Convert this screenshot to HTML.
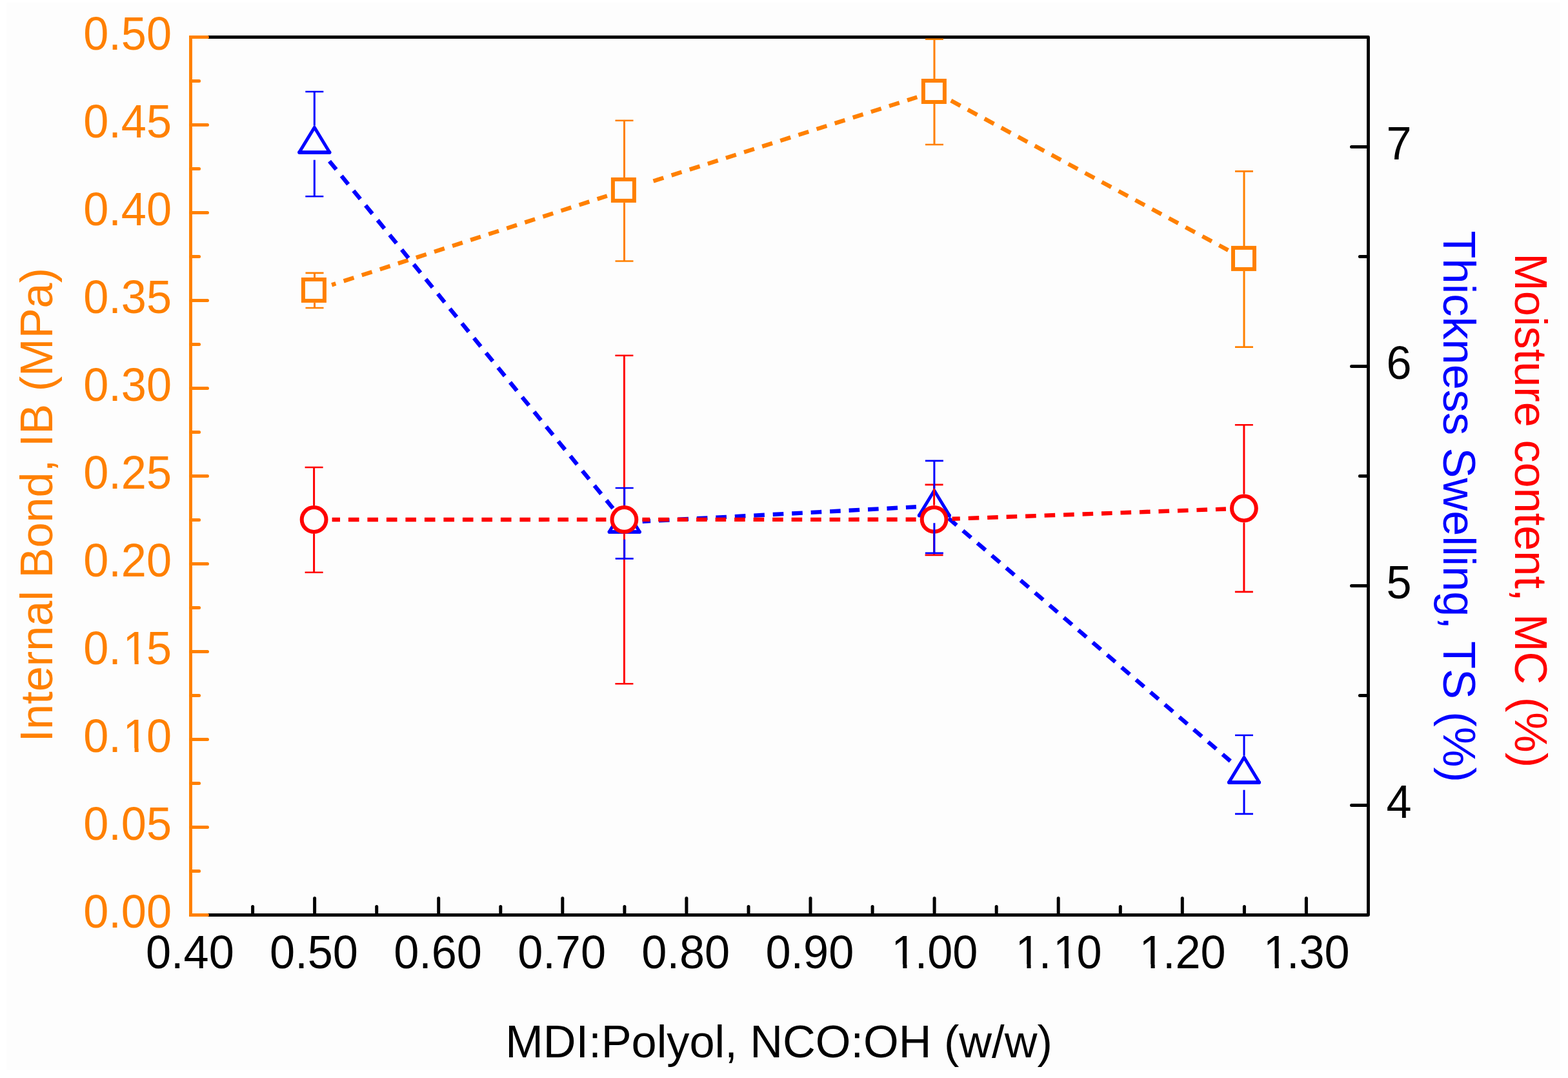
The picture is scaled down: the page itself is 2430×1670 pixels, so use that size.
<!DOCTYPE html>
<html><head><meta charset="utf-8"><title>MDI:Polyol chart</title>
<style>html,body{margin:0;padding:0;background:#fff;width:2430px;height:1670px;overflow:hidden}svg{display:block}</style>
</head><body>
<svg width="2430" height="1670" viewBox="0 0 2430 1670"><rect x="0" y="0" width="2430" height="1670" fill="#ffffff"/>
<rect x="10" y="4" width="2408" height="1654" fill="#fdfdfd"/>
<path d="M295.5 57.5 H2120.5 V1417.5 H295.5" fill="none" stroke="#000000" stroke-width="4.9" stroke-linejoin="round"/>
<line x1="391.6" y1="1417.5" x2="391.6" y2="1404.4" stroke="#000000" stroke-width="5.0" stroke-linecap="round"/>
<line x1="487.6" y1="1417.5" x2="487.6" y2="1391.5" stroke="#000000" stroke-width="5.0" stroke-linecap="round"/>
<line x1="583.7" y1="1417.5" x2="583.7" y2="1404.4" stroke="#000000" stroke-width="5.0" stroke-linecap="round"/>
<line x1="679.7" y1="1417.5" x2="679.7" y2="1391.5" stroke="#000000" stroke-width="5.0" stroke-linecap="round"/>
<line x1="775.8" y1="1417.5" x2="775.8" y2="1404.4" stroke="#000000" stroke-width="5.0" stroke-linecap="round"/>
<line x1="871.8" y1="1417.5" x2="871.8" y2="1391.5" stroke="#000000" stroke-width="5.0" stroke-linecap="round"/>
<line x1="967.9" y1="1417.5" x2="967.9" y2="1404.4" stroke="#000000" stroke-width="5.0" stroke-linecap="round"/>
<line x1="1063.9" y1="1417.5" x2="1063.9" y2="1391.5" stroke="#000000" stroke-width="5.0" stroke-linecap="round"/>
<line x1="1160.0" y1="1417.5" x2="1160.0" y2="1404.4" stroke="#000000" stroke-width="5.0" stroke-linecap="round"/>
<line x1="1256.0" y1="1417.5" x2="1256.0" y2="1391.5" stroke="#000000" stroke-width="5.0" stroke-linecap="round"/>
<line x1="1352.1" y1="1417.5" x2="1352.1" y2="1404.4" stroke="#000000" stroke-width="5.0" stroke-linecap="round"/>
<line x1="1448.1" y1="1417.5" x2="1448.1" y2="1391.5" stroke="#000000" stroke-width="5.0" stroke-linecap="round"/>
<line x1="1544.2" y1="1417.5" x2="1544.2" y2="1404.4" stroke="#000000" stroke-width="5.0" stroke-linecap="round"/>
<line x1="1640.2" y1="1417.5" x2="1640.2" y2="1391.5" stroke="#000000" stroke-width="5.0" stroke-linecap="round"/>
<line x1="1736.3" y1="1417.5" x2="1736.3" y2="1404.4" stroke="#000000" stroke-width="5.0" stroke-linecap="round"/>
<line x1="1832.3" y1="1417.5" x2="1832.3" y2="1391.5" stroke="#000000" stroke-width="5.0" stroke-linecap="round"/>
<line x1="1928.4" y1="1417.5" x2="1928.4" y2="1404.4" stroke="#000000" stroke-width="5.0" stroke-linecap="round"/>
<line x1="2024.4" y1="1417.5" x2="2024.4" y2="1391.5" stroke="#000000" stroke-width="5.0" stroke-linecap="round"/>
<line x1="2120.5" y1="1247.5" x2="2094.5" y2="1247.5" stroke="#000000" stroke-width="5.0" stroke-linecap="round"/>
<line x1="2120.5" y1="1077.5" x2="2107.4" y2="1077.5" stroke="#000000" stroke-width="5.0" stroke-linecap="round"/>
<line x1="2120.5" y1="907.5" x2="2094.5" y2="907.5" stroke="#000000" stroke-width="5.0" stroke-linecap="round"/>
<line x1="2120.5" y1="737.5" x2="2107.4" y2="737.5" stroke="#000000" stroke-width="5.0" stroke-linecap="round"/>
<line x1="2120.5" y1="567.5" x2="2094.5" y2="567.5" stroke="#000000" stroke-width="5.0" stroke-linecap="round"/>
<line x1="2120.5" y1="397.5" x2="2107.4" y2="397.5" stroke="#000000" stroke-width="5.0" stroke-linecap="round"/>
<line x1="2120.5" y1="227.5" x2="2094.5" y2="227.5" stroke="#000000" stroke-width="5.0" stroke-linecap="round"/>
<line x1="295.5" y1="57.5" x2="295.5" y2="1417.5" stroke="#ff8000" stroke-width="4.9" stroke-linecap="square"/>
<line x1="295.5" y1="1417.5" x2="321.5" y2="1417.5" stroke="#ff8000" stroke-width="5.0" stroke-linecap="round"/>
<line x1="295.5" y1="1349.5" x2="308.6" y2="1349.5" stroke="#ff8000" stroke-width="5.0" stroke-linecap="round"/>
<line x1="295.5" y1="1281.5" x2="321.5" y2="1281.5" stroke="#ff8000" stroke-width="5.0" stroke-linecap="round"/>
<line x1="295.5" y1="1213.5" x2="308.6" y2="1213.5" stroke="#ff8000" stroke-width="5.0" stroke-linecap="round"/>
<line x1="295.5" y1="1145.5" x2="321.5" y2="1145.5" stroke="#ff8000" stroke-width="5.0" stroke-linecap="round"/>
<line x1="295.5" y1="1077.5" x2="308.6" y2="1077.5" stroke="#ff8000" stroke-width="5.0" stroke-linecap="round"/>
<line x1="295.5" y1="1009.5" x2="321.5" y2="1009.5" stroke="#ff8000" stroke-width="5.0" stroke-linecap="round"/>
<line x1="295.5" y1="941.5" x2="308.6" y2="941.5" stroke="#ff8000" stroke-width="5.0" stroke-linecap="round"/>
<line x1="295.5" y1="873.5" x2="321.5" y2="873.5" stroke="#ff8000" stroke-width="5.0" stroke-linecap="round"/>
<line x1="295.5" y1="805.5" x2="308.6" y2="805.5" stroke="#ff8000" stroke-width="5.0" stroke-linecap="round"/>
<line x1="295.5" y1="737.5" x2="321.5" y2="737.5" stroke="#ff8000" stroke-width="5.0" stroke-linecap="round"/>
<line x1="295.5" y1="669.5" x2="308.6" y2="669.5" stroke="#ff8000" stroke-width="5.0" stroke-linecap="round"/>
<line x1="295.5" y1="601.5" x2="321.5" y2="601.5" stroke="#ff8000" stroke-width="5.0" stroke-linecap="round"/>
<line x1="295.5" y1="533.5" x2="308.6" y2="533.5" stroke="#ff8000" stroke-width="5.0" stroke-linecap="round"/>
<line x1="295.5" y1="465.5" x2="321.5" y2="465.5" stroke="#ff8000" stroke-width="5.0" stroke-linecap="round"/>
<line x1="295.5" y1="397.5" x2="308.6" y2="397.5" stroke="#ff8000" stroke-width="5.0" stroke-linecap="round"/>
<line x1="295.5" y1="329.5" x2="321.5" y2="329.5" stroke="#ff8000" stroke-width="5.0" stroke-linecap="round"/>
<line x1="295.5" y1="261.5" x2="308.6" y2="261.5" stroke="#ff8000" stroke-width="5.0" stroke-linecap="round"/>
<line x1="295.5" y1="193.5" x2="321.5" y2="193.5" stroke="#ff8000" stroke-width="5.0" stroke-linecap="round"/>
<line x1="295.5" y1="125.5" x2="308.6" y2="125.5" stroke="#ff8000" stroke-width="5.0" stroke-linecap="round"/>
<line x1="295.5" y1="57.5" x2="321.5" y2="57.5" stroke="#ff8000" stroke-width="5.0" stroke-linecap="round"/>
<text transform="translate(129.18 1437.10) scale(1 1.034)" fill="#ff8000" text-anchor="start" style="font-family:'Liberation Sans',Arial,sans-serif;font-size:70.3px">0.00</text>
<text transform="translate(129.18 1301.10) scale(1 1.034)" fill="#ff8000" text-anchor="start" style="font-family:'Liberation Sans',Arial,sans-serif;font-size:70.3px">0.05</text>
<text transform="translate(129.18 1165.10) scale(1 1.034)" fill="#ff8000" text-anchor="start" style="font-family:'Liberation Sans',Arial,sans-serif;font-size:70.3px">0.<tspan dx="2.8">1</tspan><tspan dx="-2.8">0</tspan></text>
<rect x="194.72" y="1158.87" width="13.86" height="7.43" fill="#fdfdfd"/>
<rect x="214.70" y="1158.87" width="12.84" height="7.43" fill="#fdfdfd"/>
<text transform="translate(129.18 1029.10) scale(1 1.034)" fill="#ff8000" text-anchor="start" style="font-family:'Liberation Sans',Arial,sans-serif;font-size:70.3px">0.<tspan dx="2.8">1</tspan><tspan dx="-2.8">5</tspan></text>
<rect x="194.72" y="1022.87" width="13.86" height="7.43" fill="#fdfdfd"/>
<rect x="214.70" y="1022.87" width="12.84" height="7.43" fill="#fdfdfd"/>
<text transform="translate(129.18 893.10) scale(1 1.034)" fill="#ff8000" text-anchor="start" style="font-family:'Liberation Sans',Arial,sans-serif;font-size:70.3px">0.20</text>
<text transform="translate(129.18 757.10) scale(1 1.034)" fill="#ff8000" text-anchor="start" style="font-family:'Liberation Sans',Arial,sans-serif;font-size:70.3px">0.25</text>
<text transform="translate(129.18 621.10) scale(1 1.034)" fill="#ff8000" text-anchor="start" style="font-family:'Liberation Sans',Arial,sans-serif;font-size:70.3px">0.30</text>
<text transform="translate(129.18 485.10) scale(1 1.034)" fill="#ff8000" text-anchor="start" style="font-family:'Liberation Sans',Arial,sans-serif;font-size:70.3px">0.35</text>
<text transform="translate(129.18 349.10) scale(1 1.034)" fill="#ff8000" text-anchor="start" style="font-family:'Liberation Sans',Arial,sans-serif;font-size:70.3px">0.40</text>
<text transform="translate(129.18 213.10) scale(1 1.034)" fill="#ff8000" text-anchor="start" style="font-family:'Liberation Sans',Arial,sans-serif;font-size:70.3px">0.45</text>
<text transform="translate(129.18 77.10) scale(1 1.034)" fill="#ff8000" text-anchor="start" style="font-family:'Liberation Sans',Arial,sans-serif;font-size:70.3px">0.50</text>
<text transform="translate(2148.60 1266.80) scale(1 1.034)" fill="#000000" text-anchor="start" style="font-family:'Liberation Sans',Arial,sans-serif;font-size:70.3px">4</text>
<text transform="translate(2148.60 926.80) scale(1 1.034)" fill="#000000" text-anchor="start" style="font-family:'Liberation Sans',Arial,sans-serif;font-size:70.3px">5</text>
<text transform="translate(2148.60 586.80) scale(1 1.034)" fill="#000000" text-anchor="start" style="font-family:'Liberation Sans',Arial,sans-serif;font-size:70.3px">6</text>
<text transform="translate(2148.60 246.80) scale(1 1.034)" fill="#000000" text-anchor="start" style="font-family:'Liberation Sans',Arial,sans-serif;font-size:70.3px">7</text>
<text transform="translate(225.94 1500.00) scale(1 1.034)" fill="#000000" text-anchor="start" style="font-family:'Liberation Sans',Arial,sans-serif;font-size:70.3px">0.40</text>
<text transform="translate(418.04 1500.00) scale(1 1.034)" fill="#000000" text-anchor="start" style="font-family:'Liberation Sans',Arial,sans-serif;font-size:70.3px">0.50</text>
<text transform="translate(610.15 1500.00) scale(1 1.034)" fill="#000000" text-anchor="start" style="font-family:'Liberation Sans',Arial,sans-serif;font-size:70.3px">0.60</text>
<text transform="translate(802.25 1500.00) scale(1 1.034)" fill="#000000" text-anchor="start" style="font-family:'Liberation Sans',Arial,sans-serif;font-size:70.3px">0.70</text>
<text transform="translate(994.36 1500.00) scale(1 1.034)" fill="#000000" text-anchor="start" style="font-family:'Liberation Sans',Arial,sans-serif;font-size:70.3px">0.80</text>
<text transform="translate(1186.46 1500.00) scale(1 1.034)" fill="#000000" text-anchor="start" style="font-family:'Liberation Sans',Arial,sans-serif;font-size:70.3px">0.90</text>
<text transform="translate(1378.57 1500.00) scale(1 1.034)" fill="#000000" text-anchor="start" style="font-family:'Liberation Sans',Arial,sans-serif;font-size:70.3px"><tspan dx="2.8">1</tspan><tspan dx="-2.8">.</tspan>00</text>
<rect x="1385.49" y="1493.77" width="13.86" height="7.43" fill="#fdfdfd"/>
<rect x="1405.46" y="1493.77" width="12.84" height="7.43" fill="#fdfdfd"/>
<text transform="translate(1570.67 1500.00) scale(1 1.034)" fill="#000000" text-anchor="start" style="font-family:'Liberation Sans',Arial,sans-serif;font-size:70.3px"><tspan dx="2.8">1</tspan><tspan dx="-2.8">.</tspan><tspan dx="2.8">1</tspan><tspan dx="-2.8">0</tspan></text>
<rect x="1577.59" y="1493.77" width="13.86" height="7.43" fill="#fdfdfd"/>
<rect x="1597.57" y="1493.77" width="12.84" height="7.43" fill="#fdfdfd"/>
<rect x="1636.22" y="1493.77" width="13.86" height="7.43" fill="#fdfdfd"/>
<rect x="1656.19" y="1493.77" width="12.84" height="7.43" fill="#fdfdfd"/>
<text transform="translate(1762.78 1500.00) scale(1 1.034)" fill="#000000" text-anchor="start" style="font-family:'Liberation Sans',Arial,sans-serif;font-size:70.3px"><tspan dx="2.8">1</tspan><tspan dx="-2.8">.</tspan>20</text>
<rect x="1769.70" y="1493.77" width="13.86" height="7.43" fill="#fdfdfd"/>
<rect x="1789.67" y="1493.77" width="12.84" height="7.43" fill="#fdfdfd"/>
<text transform="translate(1954.89 1500.00) scale(1 1.034)" fill="#000000" text-anchor="start" style="font-family:'Liberation Sans',Arial,sans-serif;font-size:70.3px"><tspan dx="2.8">1</tspan><tspan dx="-2.8">.</tspan>30</text>
<rect x="1961.80" y="1493.77" width="13.86" height="7.43" fill="#fdfdfd"/>
<rect x="1981.78" y="1493.77" width="12.84" height="7.43" fill="#fdfdfd"/>
<text transform="translate(783.30 1637.90)" fill="#000000" text-anchor="start" style="font-family:'Liberation Sans',Arial,sans-serif;font-size:70.3px">MDI:Polyol, NCO:OH (w/w)</text>
<text transform="translate(80.80 1149.50) rotate(-90)" fill="#ff8000" text-anchor="start" style="font-family:'Liberation Sans',Arial,sans-serif;font-size:70.3px">Internal Bond, IB (MPa)</text>
<text transform="translate(2237.00 357.60) rotate(90)" fill="#0000ff" text-anchor="start" style="font-family:'Liberation Sans',Arial,sans-serif;font-size:70.3px">Thickness Swelling, TS (%)</text>
<text transform="translate(2348.00 392.30) rotate(90)" fill="#ff0000" text-anchor="start" style="font-family:'Liberation Sans',Arial,sans-serif;font-size:70.3px">Moisture content, MC (%)</text>
<path d="M925.63 308.38L940.86 303.46 M897.56 317.45L913.36 312.35 M869.49 326.52L885.29 321.42 M841.42 335.59L857.21 330.49 M813.35 344.66L829.14 339.56 M785.28 353.73L801.07 348.63 M757.21 362.80L773.00 357.70 M729.13 371.87L744.93 366.77 M701.06 380.94L716.86 375.84 M672.99 390.01L688.79 384.91 M644.92 399.08L660.72 393.98 M616.85 408.15L632.65 403.05 M588.78 417.22L604.58 412.12 M560.71 426.29L576.51 421.19 M532.64 435.36L548.43 430.26 M514.14 441.34L520.36 439.33" stroke="#ff8000" stroke-width="6.4" stroke-linecap="butt" fill="none"/>
<path d="M1406.07 155.34L1421.32 150.49 M1377.96 164.28L1393.78 159.25 M1349.85 173.22L1365.67 168.19 M1321.73 182.17L1337.55 177.13 M1293.62 191.11L1309.44 186.08 M1265.51 200.05L1281.33 195.02 M1237.40 208.99L1253.22 203.96 M1209.29 217.94L1225.11 212.90 M1181.17 226.88L1196.99 221.85 M1153.06 235.82L1168.88 230.79 M1124.95 244.76L1140.77 239.73 M1096.84 253.71L1112.66 248.67 M1068.73 262.65L1084.55 257.62 M1040.62 271.59L1056.43 266.56 M1012.50 280.53L1028.32 275.50" stroke="#ff8000" stroke-width="6.4" stroke-linecap="butt" fill="none"/>
<path d="M1889.27 379.97L1903.36 387.56 M1863.31 365.96L1877.92 373.84 M1837.34 351.96L1851.95 359.84 M1811.38 337.96L1825.99 345.84 M1785.41 323.96L1800.02 331.84 M1759.45 309.95L1774.06 317.83 M1733.48 295.95L1748.09 303.83 M1707.52 281.95L1722.13 289.83 M1681.55 267.95L1696.16 275.83 M1655.59 253.95L1670.20 261.82 M1629.62 239.94L1644.23 247.82 M1603.66 225.94L1618.27 233.82 M1577.69 211.94L1592.30 219.82 M1551.73 197.94L1566.34 205.82 M1525.76 183.93L1540.37 191.81 M1499.80 169.93L1514.41 177.81 M1473.83 155.93L1488.44 163.81" stroke="#ff8000" stroke-width="6.4" stroke-linecap="butt" fill="none"/>
<rect x="469.9" y="432.9" width="33" height="33" fill="#fdfdfd" stroke="#ff8000" stroke-width="6"/>
<path d="M487.5 422.9V429.9M487.5 468.9V477.0" stroke="#ff8000" stroke-width="3.0" fill="none"/><path d="M473.5 422.9H501.5M473.5 477.0H501.5" stroke="#ff8000" stroke-width="2.6" fill="none"/>
<rect x="949.9" y="277.9" width="33" height="33" fill="#fdfdfd" stroke="#ff8000" stroke-width="6"/>
<path d="M967.5 186.8V274.9M967.5 313.9V404.5" stroke="#ff8000" stroke-width="3.0" fill="none"/><path d="M953.5 186.8H981.5M953.5 404.5H981.5" stroke="#ff8000" stroke-width="2.6" fill="none"/>
<rect x="1430.9" y="125.0" width="33" height="33" fill="#fdfdfd" stroke="#ff8000" stroke-width="6"/>
<path d="M1448.0 60.7V122.0M1448.0 161.0V224.0" stroke="#ff8000" stroke-width="3.0" fill="none"/><path d="M1434.0 60.7H1462.0M1434.0 224.0H1462.0" stroke="#ff8000" stroke-width="2.6" fill="none"/>
<rect x="1911.0" y="383.9" width="33" height="33" fill="#fdfdfd" stroke="#ff8000" stroke-width="6"/>
<path d="M1928.0 265.4V380.9M1928.0 419.9V537.6" stroke="#ff8000" stroke-width="3.0" fill="none"/><path d="M1914.0 265.4H1942.0M1914.0 537.6H1942.0" stroke="#ff8000" stroke-width="2.6" fill="none"/>
<path d="M939.86 775.13L949.98 787.52 M921.19 752.29L931.70 765.14 M902.53 729.44L913.03 742.30 M883.86 706.60L894.36 719.45 M865.19 683.76L875.70 696.61 M846.53 660.91L857.03 673.77 M827.86 638.07L838.36 650.92 M809.19 615.23L819.70 628.08 M790.53 592.38L801.03 605.24 M771.86 569.54L782.37 582.39 M753.20 546.70L763.70 559.55 M734.53 523.85L745.03 536.71 M715.86 501.01L726.37 513.86 M697.20 478.17L707.70 491.02 M678.53 455.32L689.03 468.18 M659.86 432.48L670.37 445.33 M641.20 409.64L651.70 422.49 M622.53 386.79L633.03 399.65 M603.86 363.95L614.37 376.80 M585.20 341.11L595.70 353.96 M566.53 318.26L577.04 331.12 M547.87 295.42L558.37 308.27 M529.20 272.58L539.70 285.43 M510.53 249.73L521.04 262.59" stroke="#0000ff" stroke-width="6.4" stroke-linecap="butt" fill="none"/>
<path d="M1403.96 786.12L1419.94 785.28 M1374.50 787.68L1391.08 786.81 M1345.04 789.24L1361.62 788.36 M1315.58 790.80L1332.16 789.92 M1286.13 792.36L1302.70 791.48 M1256.67 793.92L1273.24 793.04 M1227.21 795.47L1243.79 794.60 M1197.75 797.03L1214.33 796.15 M1168.29 798.59L1184.87 797.71 M1138.83 800.15L1155.41 799.27 M1109.37 801.71L1125.95 800.83 M1079.91 803.26L1096.49 802.39 M1050.46 804.82L1067.03 803.95 M1021.00 806.38L1037.57 805.50 M995.66 807.72L1008.11 807.06" stroke="#0000ff" stroke-width="6.4" stroke-linecap="butt" fill="none"/>
<path d="M1894.66 1168.59L1906.78 1179.03 M1872.31 1149.33L1884.89 1160.17 M1849.96 1130.08L1862.53 1140.92 M1827.60 1110.83L1840.18 1121.66 M1805.25 1091.58L1817.83 1102.41 M1782.90 1072.33L1795.48 1083.16 M1760.55 1053.08L1773.12 1063.91 M1738.19 1033.82L1750.77 1044.66 M1715.84 1014.57L1728.42 1025.41 M1693.49 995.32L1706.07 1006.15 M1671.14 976.07L1683.72 986.90 M1648.79 956.82L1661.36 967.65 M1626.43 937.57L1639.01 948.40 M1604.08 918.32L1616.66 929.15 M1581.73 899.06L1594.31 909.90 M1559.38 879.81L1571.95 890.65 M1537.02 860.56L1549.60 871.39 M1514.67 841.31L1527.25 852.14 M1492.32 822.06L1504.90 832.89 M1469.97 802.81L1482.54 813.64" stroke="#0000ff" stroke-width="6.4" stroke-linecap="butt" fill="none"/>
<path d="M487.3 197.4L510.9 236.1L463.7 236.1Z" fill="none" stroke="#0000ff" stroke-width="4.9" stroke-linejoin="round"/>
<path d="M464.1 236.1H510.5" fill="none" stroke="#0000ff" stroke-width="5.7" stroke-linecap="round"/>
<path d="M967.7 785.3L991.3 824.0L944.1 824.0Z" fill="none" stroke="#0000ff" stroke-width="4.9" stroke-linejoin="round"/>
<path d="M944.5 824.0H990.9" fill="none" stroke="#0000ff" stroke-width="5.7" stroke-linecap="round"/>
<path d="M1447.9 759.9L1471.5 798.6L1424.3 798.6Z" fill="none" stroke="#0000ff" stroke-width="4.9" stroke-linejoin="round"/>
<path d="M1424.7 798.6H1471.1" fill="none" stroke="#0000ff" stroke-width="5.7" stroke-linecap="round"/>
<path d="M1928.0 1173.4L1951.6 1212.1L1904.4 1212.1Z" fill="none" stroke="#0000ff" stroke-width="4.9" stroke-linejoin="round"/>
<path d="M1904.8 1212.1H1951.2" fill="none" stroke="#0000ff" stroke-width="5.7" stroke-linecap="round"/>
<path d="M923.40 804.91L939.40 804.91 M893.90 804.92L910.50 804.91 M864.40 804.92L881.00 804.92 M834.90 804.93L851.50 804.92 M805.40 804.93L822.00 804.93 M775.90 804.94L792.50 804.94 M746.40 804.95L763.00 804.94 M716.90 804.95L733.50 804.95 M687.40 804.96L704.00 804.95 M657.90 804.96L674.50 804.96 M628.40 804.97L645.00 804.97 M598.90 804.98L615.50 804.97 M569.40 804.98L586.00 804.98 M539.90 804.99L556.50 804.99 M514.60 804.99L527.00 804.99" stroke="#ff0000" stroke-width="6.4" stroke-linecap="butt" fill="none"/>
<path d="M1403.60 804.81L1419.60 804.81 M1374.10 804.82L1390.70 804.81 M1344.60 804.82L1361.20 804.82 M1315.10 804.83L1331.70 804.82 M1285.60 804.83L1302.20 804.83 M1256.10 804.84L1272.70 804.84 M1226.60 804.85L1243.20 804.84 M1197.10 804.85L1213.70 804.85 M1167.60 804.86L1184.20 804.85 M1138.10 804.86L1154.70 804.86 M1108.60 804.87L1125.20 804.87 M1079.10 804.88L1095.70 804.87 M1049.60 804.88L1066.20 804.88 M1020.10 804.89L1036.70 804.89 M995.40 804.89L1007.20 804.89" stroke="#ff0000" stroke-width="6.4" stroke-linecap="butt" fill="none"/>
<path d="M1883.93 789.08L1899.92 788.51 M1854.45 790.15L1871.04 789.55 M1824.97 791.21L1841.56 790.61 M1795.49 792.27L1812.08 791.67 M1766.00 793.33L1782.59 792.73 M1736.52 794.39L1753.11 793.80 M1707.04 795.46L1723.63 794.86 M1677.56 796.52L1694.15 795.92 M1648.08 797.58L1664.67 796.98 M1618.60 798.64L1635.19 798.04 M1589.12 799.70L1605.71 799.11 M1559.64 800.76L1576.23 800.17 M1530.16 801.83L1546.75 801.23 M1500.68 802.89L1517.27 802.29 M1475.58 803.79L1487.79 803.35" stroke="#ff0000" stroke-width="6.4" stroke-linecap="butt" fill="none"/>
<circle cx="486.6" cy="805.0" r="18.9" fill="#fdfdfd" stroke="#ff0000" stroke-width="6"/>
<circle cx="967.4" cy="804.9" r="18.9" fill="#fdfdfd" stroke="#ff0000" stroke-width="6"/>
<circle cx="1447.6" cy="804.8" r="18.9" fill="#fdfdfd" stroke="#ff0000" stroke-width="6"/>
<circle cx="1927.9" cy="787.5" r="18.9" fill="#fdfdfd" stroke="#ff0000" stroke-width="6"/>
<path d="M486.6 724.0V783.0M486.6 827.0V886.8" stroke="#ff0000" stroke-width="3.0" fill="none"/><path d="M472.6 724.0H500.6M472.6 886.8H500.6" stroke="#ff0000" stroke-width="2.6" fill="none"/>
<path d="M967.4 550.8V782.9M967.4 826.9V1059.3" stroke="#ff0000" stroke-width="3.0" fill="none"/><path d="M953.4 550.8H981.4M953.4 1059.3H981.4" stroke="#ff0000" stroke-width="2.6" fill="none"/>
<path d="M1447.6 750.9V782.8M1447.6 826.8V859.9" stroke="#ff0000" stroke-width="3.0" fill="none"/><path d="M1433.6 750.9H1461.6M1433.6 859.9H1461.6" stroke="#ff0000" stroke-width="2.6" fill="none"/>
<path d="M1927.9 658.2V765.5M1927.9 809.5V916.9" stroke="#ff0000" stroke-width="3.0" fill="none"/><path d="M1913.9 658.2H1941.9M1913.9 916.9H1941.9" stroke="#ff0000" stroke-width="2.6" fill="none"/>
<path d="M487.3 142.0V194.8M487.3 247.8V304.3" stroke="#0000ff" stroke-width="3.0" fill="none"/><path d="M473.3 142.0H501.3M473.3 304.3H501.3" stroke="#0000ff" stroke-width="2.6" fill="none"/>
<path d="M967.7 756.0V782.7M967.7 835.7V865.4" stroke="#0000ff" stroke-width="3.0" fill="none"/><path d="M953.7 756.0H981.7M953.7 865.4H981.7" stroke="#0000ff" stroke-width="2.6" fill="none"/>
<path d="M1447.9 713.9V757.3M1447.9 810.3V856.9" stroke="#0000ff" stroke-width="3.0" fill="none"/><path d="M1433.9 713.9H1461.9M1433.9 856.9H1461.9" stroke="#0000ff" stroke-width="2.6" fill="none"/>
<path d="M1928.0 1139.0V1170.8M1928.0 1223.8V1260.9" stroke="#0000ff" stroke-width="3.0" fill="none"/><path d="M1914.0 1139.0H1942.0M1914.0 1260.9H1942.0" stroke="#0000ff" stroke-width="2.6" fill="none"/></svg>
</body></html>
